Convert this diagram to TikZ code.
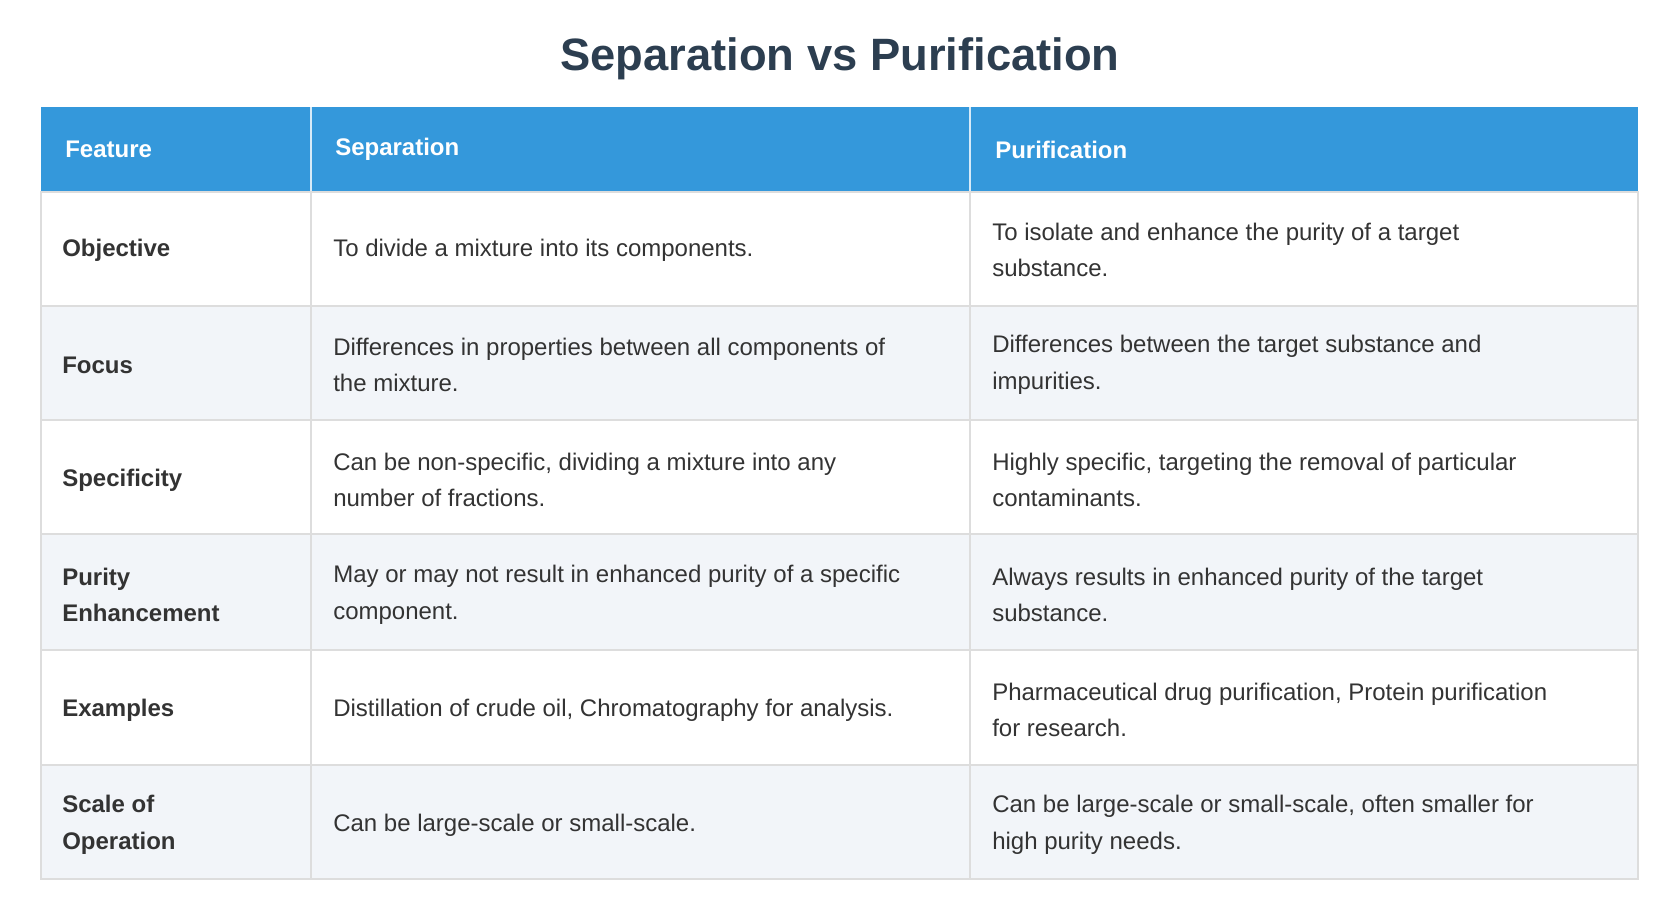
\documentclass[tikz,border=0pt]{standalone}
\usepackage{fontspec}
\setmainfont{Liberation Sans}
\definecolor{headblue}{HTML}{3498DB}
\definecolor{titlecol}{HTML}{2C3E50}
\definecolor{rowtint}{HTML}{F2F5F9}
\definecolor{gridcol}{HTML}{DDDDDD}
\definecolor{bodytext}{HTML}{333333}
\tikzset{
  cell/.style={draw=gridcol, line width=2.2pt},
  celltext/.style={anchor=west, inner sep=0pt, align=left, text=bodytext,
    font=\fontsize{18}{27.5}\selectfont},
  feattext/.style={celltext, font=\fontsize{18}{27.5}\selectfont\bfseries},
  headtext/.style={anchor=west, inner sep=0pt, text=white,
    font=\fontsize{18}{27.5}\selectfont\bfseries}
}
\begin{document}
\begin{tikzpicture}[x=0.75pt, y=-0.75pt]
	\useasboundingbox (0,0) rectangle (1680,922);
	\node (title) at (840,59) {\fontsize{34}{40}\selectfont\bfseries\color{titlecol}Separation vs Purification};
	% header
	\fill [headblue] (41,107) rectangle (1638,192);
	\draw [white!80!headblue, line width=1pt] (311,107) -- (311,192) (970,107) -- (970,192);
	\node [headtext] (hfeat) at (65,149.5) {Feature};
	\node [headtext] (hsep) at (335,149.5) {Separation};
	\node [headtext] (hpur) at (995,149.5) {Purification};
	% rows
	\foreach \top/\bot/\tint in {192/306/white, 306/420/rowtint, 420/534/white, 534/650/rowtint, 650/765/white, 765/879/rowtint} {
		\fill [\tint] (41,\top) rectangle (1638,\bot);
		\draw [cell] (41,\top) rectangle (311,\bot);
		\draw [cell] (311,\top) rectangle (970,\bot);
		\draw [cell] (970,\top) rectangle (1638,\bot);
	}
	\node [feattext] (objective) at (62,250) {Objective};
	\node [celltext] (objsep) at (333,250) {To divide a mixture into its components.};
	\node [celltext] (objpur) at (992,250) {To isolate and enhance the purity of a target\\substance.};
	\node [feattext] (focus) at (62,365) {Focus};
	\node [celltext] (focsep) at (333,365) {Differences in properties between all components of\\the mixture.};
	\node [celltext] (focpur) at (992,365) {Differences between the target substance and\\impurities.};
	\node [feattext] (specificity) at (62,480) {Specificity};
	\node [celltext] (specsep) at (333,480) {Can be non-specific, dividing a mixture into any\\number of fractions.};
	\node [celltext] (specpur) at (992,480) {Highly specific, targeting the removal of particular\\contaminants.};
	\node [feattext] (purity) at (62,595) {Purity\\Enhancement};
	\node [celltext] (pursep) at (333,595) {May or may not result in enhanced purity of a specific\\component.};
	\node [celltext] (purpur) at (992,595) {Always results in enhanced purity of the target\\substance.};
	\node [feattext] (examples) at (62,710) {Examples};
	\node [celltext] (exsep) at (333,710) {Distillation of crude oil, Chromatography for analysis.};
	\node [celltext] (expur) at (992,710) {Pharmaceutical drug purification, Protein purification\\for research.};
	\node [feattext] (scale) at (62,825) {Scale of\\Operation};
	\node [celltext] (scsep) at (333,825) {Can be large-scale or small-scale.};
	\node [celltext] (scpur) at (992,825) {Can be large-scale or small-scale, often smaller for\\high purity needs.};
\end{tikzpicture}
\end{document}
